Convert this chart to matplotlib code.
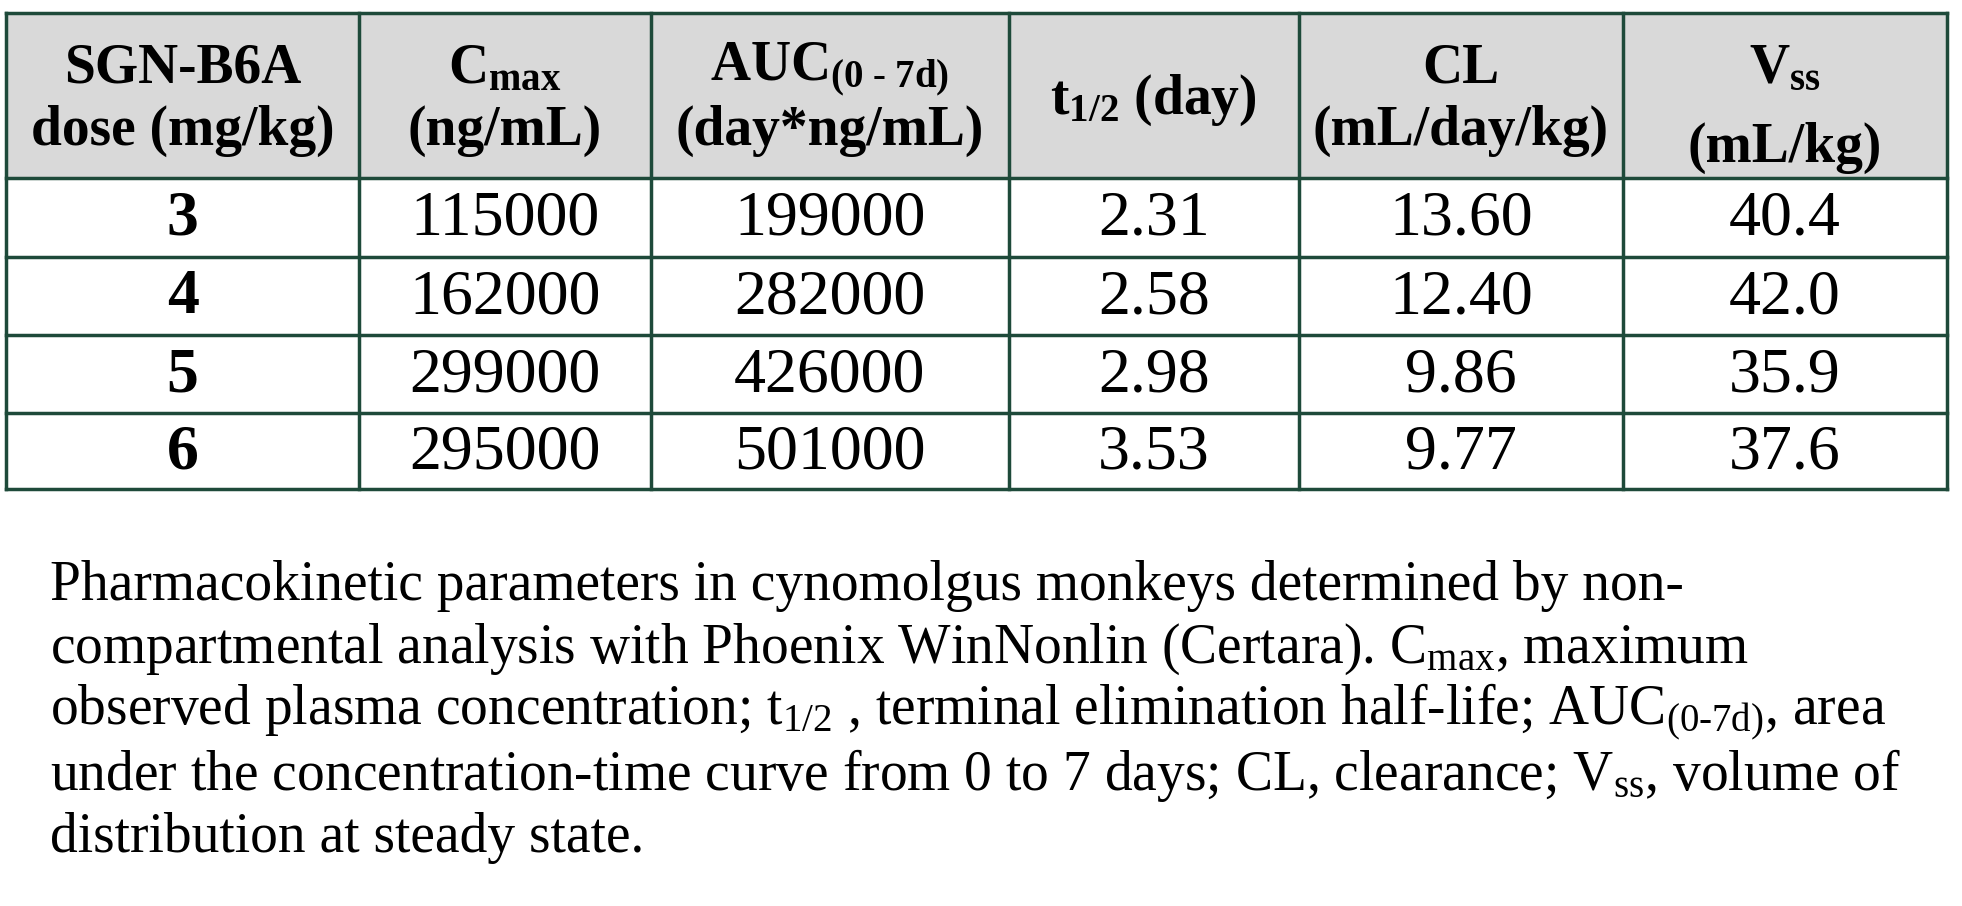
import matplotlib.pyplot as plt
from matplotlib.patches import Rectangle

plt.rcParams['font.family'] = ['Liberation Serif', 'DejaVu Serif']
plt.rcParams['mathtext.fontset'] = 'custom'
plt.rcParams['mathtext.rm'] = 'Liberation Serif'
plt.rcParams['mathtext.it'] = 'Liberation Serif:italic'
plt.rcParams['mathtext.bf'] = 'Liberation Serif:bold'

# data
headers = [
    ["SGN-B6A", "dose (mg/kg)"],
    [r"C$_{\mathbf{max}}$", "(ng/mL)"],
    [r"AUC$_{\mathbf{(0\ ‐\ 7d)}}$", "(day*ng/mL)"],
    [r"t$_{\mathbf{1/2}}$ (day)"],
    ["CL", "(mL/day/kg)"],
    [r"V$_{\mathbf{ss}}$", "(mL/kg)"],
]
doses = ["3", "4", "5", "6"]
cmax = ["115000", "162000", "299000", "295000"]
auc = ["199000", "282000", "426000", "501000"]
t_half = ["2.31", "2.58", "2.98", "3.53"]
cl = ["13.60", "12.40", "9.86", "9.77"]
vss = ["40.4", "42.0", "35.9", "37.6"]
caption = [
    "Pharmacokinetic parameters in cynomolgus monkeys determined by non-",
    r"compartmental analysis with Phoenix WinNonlin (Certara). C$_{\mathrm{max}}$, maximum",
    r"observed plasma concentration; t$_{\mathrm{1/2}}$ , terminal elimination half-life; AUC$_{\mathrm{(0‐7d)}}$, area",
    "under the concentration-time curve from 0 to 7 days; CL, clearance; V$_{\mathrm{ss}}$, volume of",
    "distribution at steady state.",
]

# layout in reference pixel space
W, H = 1568, 724
col_x = [5, 287, 520, 806, 1038, 1297, 1556]
row_y = [10, 142, 205, 268, 330, 391]
border = '#1e4a3a'
fs_head, fs_body, fs_cap = 40, 46, 40

fig = plt.figure(figsize=(19.62, 9.06), dpi=100)
ax = fig.add_axes([0, 0, 1, 1])
ax.set_xlim(0, W)
ax.set_ylim(H, 0)
ax.axis('off')

ax.add_patch(Rectangle((col_x[0], row_y[0]), col_x[-1] - col_x[0],
                       row_y[1] - row_y[0], facecolor='#d9d9d9', edgecolor='none'))
for x in col_x:
    ax.plot([x, x], [row_y[0], row_y[-1]], color=border, lw=2.5)
for y in row_y:
    ax.plot([col_x[0], col_x[-1]], [y, y], color=border, lw=2.5)

for i, h in enumerate(headers):
    cx = (col_x[i] + col_x[i + 1]) / 2
    if len(h) == 1:
        ax.text(cx, 80, h[0], ha='center', va='center', fontsize=fs_head, fontweight='bold')
    else:
        y2 = 118 if i == 5 else 105
        ax.text(cx, 55, h[0], ha='center', va='center', fontsize=fs_head, fontweight='bold')
        ax.text(cx, y2, h[1], ha='center', va='center', fontsize=fs_head, fontweight='bold')

cols = [doses, cmax, auc, t_half, cl, vss]
for j, col in enumerate(cols):
    cx = (col_x[j] + col_x[j + 1]) / 2
    for r, v in enumerate(col):
        cy = (row_y[r + 1] + row_y[r + 2]) / 2 + 2
        ax.text(cx, cy, v, ha='center', va='center', fontsize=fs_body,
                fontweight='bold' if j == 0 else 'normal')

for k, line in enumerate(caption):
    ax.text(40, 468 + k * 50.5, line, ha='left', va='center', fontsize=fs_cap)

fig.savefig('out.png', dpi=100, facecolor='white')
